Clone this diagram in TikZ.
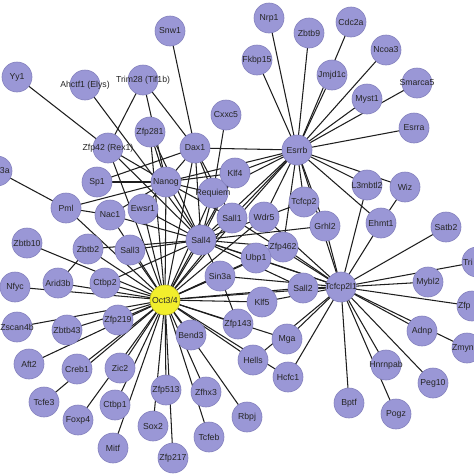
\documentclass[tikz,border=0pt]{standalone}
\usepackage{fontspec}
\setmainfont{Liberation Sans}
\usetikzlibrary{backgrounds}
\definecolor{lav}{HTML}{9A97D6}
\definecolor{lavedge}{HTML}{8481BE}
\definecolor{octy}{HTML}{F2EE2C}
\definecolor{edgec}{HTML}{1E1E1E}
\newcommand{\ctx}[1]{\makebox[0pt]{#1}}
\begin{document}
\begin{tikzpicture}[x=1pt,y=-1pt,
  nd/.style={circle,minimum size=30pt,inner sep=0pt,fill=lav,draw=lavedge,line width=0.6pt,font=\fontsize{8.7}{9}\selectfont,text=black!85},
  hub/.style={nd,fill=octy,draw=octy!80!black},
  ed/.style={draw=edgec,line width=1.05pt}]
\useasboundingbox (0,0) rectangle (474,474);
% nodes
\node[nd] (snw) at (170,31) {\ctx{Snw1}};
\node[nd] (yy) at (17,77) {\ctx{Yy1}};
\node[nd] (ahc) at (85,85) {\ctx{Ahctf1 (Elys)}};
\node[nd] (trim) at (143,80) {\ctx{Trim28 (Tif1b)}};
\node[nd] (cxx) at (226,115) {\ctx{Cxxc5}};
\node[nd] (z281) at (150,132) {\ctx{Zfp281}};
\node[nd] (z42) at (108,148) {\ctx{Zfp42 (Rex1)}};
\node[nd] (dax) at (195,148) {\ctx{Dax1}};
\node[nd] (nrp) at (269,18) {\ctx{Nrp1}};
\node[nd] (zb9) at (309,33) {\ctx{Zbtb9}};
\node[nd] (cdc) at (351,22) {\ctx{Cdc2a}};
\node[nd] (fkb) at (257,60) {\ctx{Fkbp15}};
\node[nd] (jmj) at (332,75) {\ctx{Jmjd1c}};
\node[nd] (nco) at (386,50) {\ctx{Ncoa3}};
\node[nd] (sma) at (417,83) {\ctx{Smarca5}};
\node[nd] (mys) at (367,99) {\ctx{Myst1}};
\node[nd] (esa) at (414,128) {\ctx{Esrra}};
\node[nd] (esb) at (297,150) {\ctx{Esrrb}};
\node[nd] (n3a) at (-3,171) {\makebox[0pt][l]{\hspace{3pt}3a}};
\node[nd] (sp1) at (97,182) {\ctx{Sp1}};
\node[nd] (nan) at (166,182) {\ctx{Nanog}};
\node[nd] (pml) at (66,208) {\ctx{Pml}};
\node[nd] (nac) at (110,215) {\ctx{Nac1}};
\node[nd] (ews) at (143,209) {\ctx{Ewsr1}};
\node[nd] (req) at (213,193) {\ctx{Requiem}};
\node[nd] (klf4) at (235,173) {\ctx{Klf4}};
\node[nd] (sal1) at (232,218) {\ctx{Sall1}};
\node[nd] (wdr) at (264,217) {\ctx{Wdr5}};
\node[nd] (sal4) at (201,240) {\ctx{Sall4}};
\node[nd] (zb10) at (27,243) {\ctx{Zbtb10}};
\node[nd] (zb2) at (88,249) {\ctx{Zbtb2}};
\node[nd] (sal3) at (130,250) {\ctx{Sall3}};
\node[nd] (sin) at (220,276) {\ctx{Sin3a}};
\node[nd] (nfy) at (15,287) {\ctx{Nfyc}};
\node[nd] (ari) at (58,283) {\ctx{Arid3b}};
\node[nd] (ctb2) at (105,283) {\ctx{Ctbp2}};
\node[nd] (l3m) at (367,185) {\ctx{L3mbtl2}};
\node[nd] (wiz) at (405,187) {\ctx{Wiz}};
\node[nd] (tcf2) at (304,202) {\ctx{Tcfcp2}};
\node[nd] (grh) at (325,226) {\ctx{Grhl2}};
\node[nd] (ehm) at (381,223) {\ctx{Ehmt1}};
\node[nd] (sat) at (446,227) {\ctx{Satb2}};
\node[nd] (z462) at (283,247) {\ctx{Zfp462}};
\node[nd] (ubp) at (256,258) {\ctx{Ubp1}};
\node[nd] (tl1) at (341,287) {\ctx{Tcfcp2l1}};
\node[nd] (sal2) at (303,288) {\ctx{Sall2}};
\node[nd] (myb) at (428,282) {\ctx{Mybl2}};
\node[nd] (klf5) at (262,302) {\ctx{Klf5}};
\node[nd] (tri) at (477,262) {\makebox[0pt][l]{\hspace{-14pt}Tri}};
\node[nd] (zfp) at (472,306) {\makebox[0pt][l]{\hspace{-14pt}Zfp}};
\node[nd] (zsc) at (17,327) {\ctx{Zscan4b}};
\node[nd] (zb43) at (67,330) {\ctx{Zbtb43}};
\node[nd] (z219) at (118,320) {\ctx{Zfp219}};
\node[nd] (ben) at (191,335) {\ctx{Bend3}};
\node[nd] (z143) at (238,324) {\ctx{Zfp143}};
\node[nd] (aft) at (29,364) {\ctx{Aft2}};
\node[nd] (cre) at (77,369) {\ctx{Creb1}};
\node[nd] (zic) at (120,368) {\ctx{Zic2}};
\node[nd] (z513) at (166,390) {\ctx{Zfp513}};
\node[nd] (zfh) at (206,392) {\ctx{Zfhx3}};
\node[nd] (tfe3) at (44,402) {\ctx{Tcfe3}};
\node[nd] (ctb1) at (115,405) {\ctx{Ctbp1}};
\node[nd] (fox) at (78,420) {\ctx{Foxp4}};
\node[nd] (sox) at (153,426) {\ctx{Sox2}};
\node[nd] (tfeb) at (209,437) {\ctx{Tcfeb}};
\node[nd] (mit) at (113,448) {\ctx{Mitf}};
\node[nd] (z217) at (173,458) {\ctx{Zfp217}};
\node[nd] (mga) at (287,339) {\ctx{Mga}};
\node[nd] (hel) at (253,360) {\ctx{Hells}};
\node[nd] (hcf) at (288,377) {\ctx{Hcfc1}};
\node[nd] (rbp) at (247,417) {\ctx{Rbpj}};
\node[nd] (bpt) at (349,403) {\ctx{Bptf}};
\node[nd] (hnr) at (386,365) {\ctx{Hnrnpab}};
\node[nd] (pog) at (396,414) {\ctx{Pogz}};
\node[nd] (adn) at (422,331) {\ctx{Adnp}};
\node[nd] (peg) at (433,383) {\ctx{Peg10}};
\node[nd] (zmy) at (467,348) {\makebox[0pt][l]{\hspace{-15pt}Zmyn}};
\node[hub] (oct) at (165,300) {\ctx{Oct3/4}};
% edges
\begin{scope}[on background layer]
\fill[white] (0,0) rectangle (474,474);
\foreach \a/\b in {yy/z42, ahc/sal4, trim/z42, trim/nan, trim/dax, snw/dax, cxx/req,
  z42/nan, z42/sal4, z42/oct, z281/nan, z281/sal4, z281/oct,
  dax/esb, dax/nan, dax/sal4, dax/oct, dax/req, dax/sal1, dax/sp1,
  n3a/pml, pml/nan, pml/oct, pml/nac, sp1/nan,
  nac/nan, nac/sal4, nac/oct, ews/oct, ews/sal4, ews/nan,
  nan/sal4, nan/oct, nan/req, nan/esb, nan/sal1, nan/klf4,
  req/sal4, req/oct, req/esb, klf4/esb, klf4/sal4, klf4/oct,
  sal1/esb, sal1/sal4, sal1/oct, sal1/tl1, wdr/esb, wdr/sal4, wdr/oct, wdr/tcf2, wdr/tl1,
  sal4/oct, sal4/esb, sal4/tl1, sal4/z462, sal4/ubp, sal4/sal2, sal4/grh, sal4/sal3, sal4/ctb2, sal4/zb2,
  zb10/oct, zb2/oct, zb2/ari, sal3/oct, sin/oct, sin/tl1, sin/z143, sin/sal4,
  nfy/oct, ari/oct, ctb2/oct,
  esb/nrp, esb/zb9, esb/fkb, esb/jmj, esb/cdc, esb/nco, esb/mys, esb/sma, esb/esa,
  esb/l3m, esb/wiz, esb/ehm, esb/tcf2, esb/grh, esb/z462, esb/tl1, wiz/ehm,
  tl1/l3m, tl1/ehm, tl1/grh, tl1/z462, tl1/sat, tl1/myb, tl1/tri, tl1/zfp, tl1/adn, tl1/zmy,
  tl1/peg, tl1/hnr, tl1/pog, tl1/bpt, tl1/hcf, tl1/mga, tl1/hel, tl1/sal2, tl1/klf5, tl1/ubp, tl1/oct,
  oct/z219, oct/zb43, oct/zsc, oct/aft, oct/cre, oct/tfe3, oct/zic, oct/fox, oct/ctb1, oct/mit,
  oct/z513, oct/sox, oct/z217, oct/zfh, oct/tfeb, oct/ben, oct/rbp, oct/hel, oct/hcf, oct/mga,
  oct/z143, oct/klf5, oct/ubp, oct/sal2, oct/z462, oct/esb}
  \draw[ed] (\a.center) -- (\b.center);
\end{scope}
\end{tikzpicture}
\end{document}
